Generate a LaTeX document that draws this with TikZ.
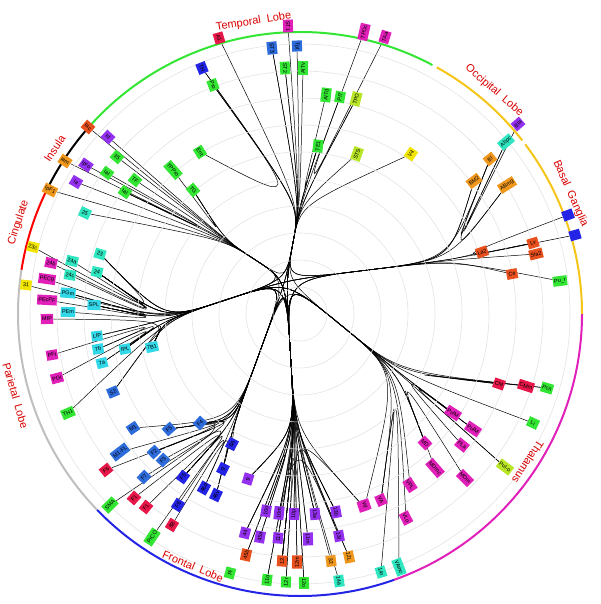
\documentclass[tikz,border=0pt]{standalone}
\usepackage{fontspec}
\setmainfont{Liberation Sans}
\usetikzlibrary{calc,backgrounds}
\begin{document}
\begin{tikzpicture}[x=1pt,y=-1pt,
  box/.style={draw=none,inner sep=1.3pt,minimum height=10pt,minimum width=11pt,font=\fontsize{5.5}{5.5}\selectfont,text=black},
  lnk/.style={black,line width=0.5pt},
  arcl/.style={text=red!85!black,font=\fontsize{11}{11}\selectfont}]
\useasboundingbox (0,0) rectangle (601,604);
\definecolor{cR}{HTML}{E8174A}\definecolor{cM}{HTML}{E020B8}\definecolor{cB}{HTML}{2E6BDB}
\definecolor{cD}{HTML}{2424E6}\definecolor{cG}{HTML}{33E633}\definecolor{cY}{HTML}{B8E626}
\definecolor{cT}{HTML}{2EE6C0}\definecolor{cC}{HTML}{33D8E8}\definecolor{cP}{HTML}{9430F0}
\definecolor{cO}{HTML}{F0981E}\definecolor{cE}{HTML}{E8501E}\definecolor{cW}{HTML}{F2E600}
\definecolor{cGold}{HTML}{F5C518}
\coordinate (ctr) at (300,314);
\foreach \r in {27,54,...,270} \draw[gray!22,line width=0.6pt] (ctr) circle[radius=\r];
% region arcs
\foreach \a/\b/\c in {62/139/cG, 139/153/black, 153/171/red, 171/224/gray!50, 224/289.5/cD, -70.5/0/cM, 0/37/cGold, 38/61/cGold}
  \draw[\c,line width=2pt] ($(ctr)+({282*cos(\a)},{-282*sin(\a)})$) arc[start angle=-\a,end angle=-\b,radius=282];
% labels
\foreach \t/\a/\r in {Temporal\ \ Lobe/99/296, Occipital\ \ Lobe/49/296, Basal\ \ Ganglia/24/296, Thalamus/-33/272, Frontal\ \ Lobe/-113/274, Parietal\ \ Lobe/196/296, Cingulate/162/296, Insula/146/296}{
  \pgfmathsetmacro\rot{\a<-50 ? \a+90 : (\a<0 ? \a-90 : (\a>180 ? \a-270 : \a-90))}
  \node[arcl,rotate=\rot] (lab\a) at ($(ctr)+({\r*cos(\a)},{-\r*sin(\a)})$) {\t};}
% hubs
\coordinate (hT) at (300,205); \coordinate (hL) at (225,240); \coordinate (hC) at (165,320);
\coordinate (hF) at (235,420); \coordinate (hO) at (295,430); \coordinate (hB) at (450,260);
\coordinate (hH) at (398,372); \coordinate (core) at (286,280);
% nodes
\foreach \n/\x/\y/\c/\t in {
A1/219/38/cR/A1, STt/288/26/cM/ST1, ST3/272/48/cB/ST3, Tpt/297/46/cB/Tpt, ST2/285/68/cG/ST2, AITv/303/68/cG/AITv,
AITd/326/95/cG/AITd, PIT/340/97/cG/PIT, TPO/356/99/cY/TPO, TPOc/364/32/cM/TPOc, TAa/385/37/cM/TAa, TH/202/68/cD/TH,
Pro/213/85/cG/Pro, Ent/200/152/cG/Ent, TE1/318/146/cG/TE1, STS/357/154/cY/STS, V4/411/154/cW/V4,
Iac/88/127/cE/Iac, Id/108/137/cP/Id, 35/117/157/cG/35, Iam/65/161/cO/Iam, Ipro/86/165/cP/Ipro, Ial/107/173/cG/Ial,
TF/135/180/cG/TF, TPPro/173/170/cG/TPPro, TG/193/190/cG/TG, Ia/76/182/cP/Ia, Iai/125/192/cG/IaI, IpF1/50/190/cO/IpF1, 25/85/213/cT/25,
23c/33/247/cW/23c, 23/100/254/cT/23, 24b/51/263/cM/24b, 24a/72/261/cT/24a, 24c/70/275/cT/24c, 24/97/272/cT/24,
PECg/47/279/cM/PECg, 31/26/285/cW/31, PGm/68/293/cC/PGm, PEcPF/47/300/cM/PEcPF, SPL/94/305/cC/SPL, PEm/68/312/cC/PEm,
MIP/47/319/cM/MIP, LIP/97/336/cC/LIP, 7b/98/349/cC/7b, IPL/125/349/cC/IPL, 7a/102/363/cC/7a, 7B1/152/347/cC/7B1,
PFt/52/355/cM/PFt, PGt/57/378/cM/PGt, S2/113/392/cB/S2, TH1/68/413/cG/TH1,
M1/133/428/cB/M1, M1FL/120/452/cB/M1-FL, F6/106/470/cR/F6, SMA/110/505/cG/SMA, F5/169/429/cB/F5, F4/200/423/cB/F4,
F2/154/452/cB/F2, F3/163/460/cB/F3, F7/144/477/cB/F7, F1/134/498/cR/F1, F1b/146/507/cR/F1, PrCO/152/537/cG/PrCO,
F5b/183/477/cD/F5, F6b/178/505/cD/F6, 8b/172/525/cR/8B, 46d/204/488/cD/46d, 46v/216/495/cD/46v, 946/223/469/cD/9/46, 8Ad/232/444/cD/8A,
9/248/479/cP/9, 10o/266/511/cP/10o, 10m/279/513/cP/10m, 10p/294/514/cP/10p, 13a/315/514/cP/13a, 13b/336/512/cP/13b,
32/363/506/cM/32, 44/245/533/cP/44, 45a/260/537/cP/45a, 11l/278/538/cP/11l, 11m/308/539/cP/11m, 13l/339/536/cP/13l,
45b/246/555/cE/45b, 12/282/561/cE/12, 12m/297/562/cE/12m, 32b/331/561/cO/32, 12L/349/557/cO/12L,
Pi/230/573/cG/Pi, 11o/267/580/cG/11o, 12r/286/582/cG/12r, 12o/304/583/cG/12o, 14a/339/581/cT/14a,
Bla/518/124/cP/Bla, Abpc/506/142/cT/Abpc, Bl/490/159/cO/Bl, BM2/474/181/cO/BM2, ABmg/507/185/cO/ABmg,
P1/568/215/cD/ , P2/575/235/cD/ , Lv/533/243/cE/Lv, La2/482/252/cE/La2, Sla2/536/254/cE/Sla2, Ce/512/274/cE/Ce, Pur/560/281/cG/Pu\_r,
CM/499/384/cR/CM, CMm/526/386/cR/CMm, Pcn/547/388/cG/Pcn, Li/533/423/cG/Li, Pulm/453/413/cM/PulM, Pulv/473/429/cM/PulM,
PLa/462/445/cM/PLa, MD/425/443/cM/MD, MDmc/435/468/cM/MDmc, MDm/465/478/cM/MDm, Pulo/505/467/cY/Pul-o,
VPL/410/485/cM/VPL, VLo/406/518/cM/VLo, VA/381/500/cM/VA, Vd/365/505/cM/Vd, 14r/381/572/cT/14r, VAmc/399/567/cT/VAmc}{
  \pgfmathsetmacro\ang{atan2(314-\y,\x-300)}
  \pgfmathsetmacro\rot{\x<300 ? \ang-180 : \ang}
  \node[box,fill=\c,rotate=\rot] (\n) at (\x,\y) {\t};}
% links
\begin{pgfonlayer}{background}
\foreach \g/\a/\h/\b in {
T/A1/O/12, T/STt/O/12m, T/ST3/F/F4, T/Tpt/O/13a, T/ST2/L/TG, T/AITv/O/11l, T/AITd/T/TE1, T/PIT/O/45b, T/TPO/O/12L,
T/TPOc/T/TPO, T/TAa/O/32b, T/TH/C/24, T/Pro/O/12r, T/Ent/T/Pro, T/TE1/O/11m, T/STS/H/Pulm, T/V4/F/946, T/TH/O/12,
L/Iac/O/12o, L/Id/C/7B1, L/35/O/13b, L/Iam/L/Iai, L/Ipro/O/10o, L/Ial/L/Iai, L/TF/F/46v, L/TPPro/L/TG, L/TG/O/13l,
L/Ia/O/44, L/Iai/O/11o, L/IpF1/O/45a, L/25/C/23,
C/23c/C/23, C/24b/C/24, C/24a/C/24, C/24c/C/24, C/23/O/10m, C/24/O/9, C/PECg/C/SPL, C/31/H/MD, C/PGm/C/SPL,
C/PEcPF/C/SPL, C/SPL/F/F2, C/PEm/C/SPL, C/MIP/C/7B1, C/LIP/F/946, C/7b/C/IPL, C/IPL/C/7B1, C/7a/C/IPL, C/7B1/F/F5,
C/PFt/C/7b, C/PGt/C/7a, C/S2/C/7B1, C/TH1/T/TE1, C/24/H/Pulv, C/7B1/O/44, C/SPL/O/12, C/IPL/F/F5b,
F/M1/C/S2, F/M1FL/F/F5, F/F6/F/F2, F/SMA/F/F5, F/F5/F/F4, F/F4/O/9, F/F2/F/F4, F/F3/F/F5b, F/F7/F/F4, F/F1/F/F5b,
F/F1b/F/F5b, F/PrCO/F/46d, F/F5b/O/12, F/F6b/F/F5b, F/8b/F/46v, F/46d/O/45b, F/46v/O/12L, F/946/O/10p, F/8Ad/O/14a, F/F5/T/ST3,
O/32/O/10p, O/10m/O/12, O/13a/O/13b, O/12m/O/11l, O/12r/O/12o, O/11o/O/13l, O/45a/O/44,
B/Bla/B/Abpc, B/Abpc/B/Bl, B/Bl/C/24, B/BM2/O/13b, B/ABmg/B/Bl, B/P1/B/Lv, B/P2/B/Lv, B/Lv/O/12, B/La2/C/23,
B/Sla2/O/11l, B/Ce/T/ST2, B/Pur/C/PGm, B/BM2/C/PGm, B/ABmg/T/TE1,
H/CM/H/CMm, H/CMm/H/Pcn, H/Pcn/C/7B1, H/Li/F/F4, H/Pulm/H/Pulv, H/Pulv/H/Pulo, H/PLa/H/Pulm, H/MD/O/10o,
H/MDmc/H/MD, H/MDm/H/MD, H/Pulo/C/IPL, H/VPL/O/32, H/VLo/O/9, H/VA/O/13a, H/Vd/O/11m, H/14r/H/VA, H/VAmc/H/VA, H/CM/C/LIP}{
  \ifx\g\h
    \draw[lnk] (\a) .. controls (h\g) .. (\b);
  \else
    \draw[lnk] (\a) .. controls (h\g) .. ($(h\g)!0.5!(core)$) .. controls (core) .. ($(core)!0.5!(h\h)$) .. controls (h\h) .. (\b);
  \fi}
\end{pgfonlayer}
\end{tikzpicture}
\end{document}
